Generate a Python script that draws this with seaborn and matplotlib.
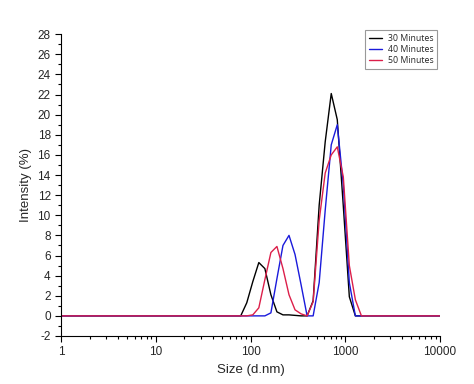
import pandas as pd
import seaborn as sns
import matplotlib
matplotlib.use('Agg')
import matplotlib.pyplot as plt
from matplotlib import ticker

# size bins (d.nm) and intensity (%)
sizes = [1, 68.06, 78.82, 91.28, 105.7, 122.4, 141.8, 164.2, 190.1, 220.2, 255.0,
         295.3, 342.0, 396.1, 458.7, 531.2, 615.1, 712.4, 825.0, 955.4, 1106,
         1281, 1484, 1718, 10000]
min30 = [0, 0, 0, 1.3, 3.4, 5.3, 4.7, 2.1, 0.4, 0.1, 0.1,
         0.05, 0, 0, 1.5, 11.0, 17.3, 22.1, 19.5, 10.9, 1.9,
         0, 0, 0, 0]
min40 = [0, 0, 0, 0, 0, 0, 0, 0.3, 3.7, 7.0, 8.0,
         6.1, 3.1, 0, 0, 3.3, 10.5, 17.0, 19.0, 13.0, 3.3,
         0, 0, 0, 0]
min50 = [0, 0, 0, 0, 0.1, 0.8, 3.6, 6.3, 6.9, 4.7, 2.1,
         0.6, 0.2, 0, 1.4, 9.5, 14.2, 16.0, 16.8, 13.8, 5.0,
         1.6, 0, 0, 0]
labels = ['30 Minutes', '40 Minutes', '50 Minutes']
colors = ['#000000', '#1a1adb', '#dc1f4a']

df = pd.DataFrame({'Size': sizes * 3,
                   'Intensity': min30 + min40 + min50,
                   'Time': [labels[0]] * len(sizes) + [labels[1]] * len(sizes) + [labels[2]] * len(sizes)})

sns.set_style('ticks')
plt.rcParams['font.family'] = ['Liberation Sans', 'DejaVu Sans']
plt.rcParams['axes.unicode_minus'] = False

fig = plt.figure(figsize=(4.74, 3.84), dpi=100)
ax = fig.add_axes([0.129, 0.125, 0.799, 0.786])
sns.lineplot(x='Size', y='Intensity', hue='Time', data=df, palette=colors,
             linewidth=1.0, ax=ax, legend=True)
ax.set_xscale('log')
ax.set_xlim(1, 10000)
ax.set_ylim(-2, 28)
ax.set_yticks(range(-2, 29, 2))
ax.yaxis.set_minor_locator(ticker.MultipleLocator(1))
ax.set_xticks([1, 10, 100, 1000, 10000])
ax.xaxis.set_major_formatter(ticker.FuncFormatter(lambda v, p: f'{v:g}'))
ax.xaxis.set_minor_locator(ticker.LogLocator(base=10, subs=range(2, 10), numticks=20))
ax.xaxis.set_minor_formatter(ticker.NullFormatter())
ax.tick_params(which='major', length=4, width=0.8, labelsize=8.5, color='black')
ax.tick_params(which='minor', length=2, width=0.8, color='black')
for s in ['left', 'bottom']:
    ax.spines[s].set_color('black')
    ax.spines[s].set_linewidth(0.8)
sns.despine(ax=ax)
ax.set_xlabel('Size (d.nm)', fontsize=9.5)
ax.set_ylabel('Intensity (%)', fontsize=9.5)

leg = ax.legend(loc='upper right', bbox_to_anchor=(0.932, 0.932), bbox_transform=fig.transFigure,
                frameon=True, fancybox=False, edgecolor='#808080',
                handlelength=1.5, handletextpad=0.6, borderpad=0.45, labelspacing=0.2,
                title=None, prop={'family': 'Open Sans', 'size': 6.3})
leg.get_frame().set_linewidth(0.8)

plt.savefig('out.png', dpi=100)
